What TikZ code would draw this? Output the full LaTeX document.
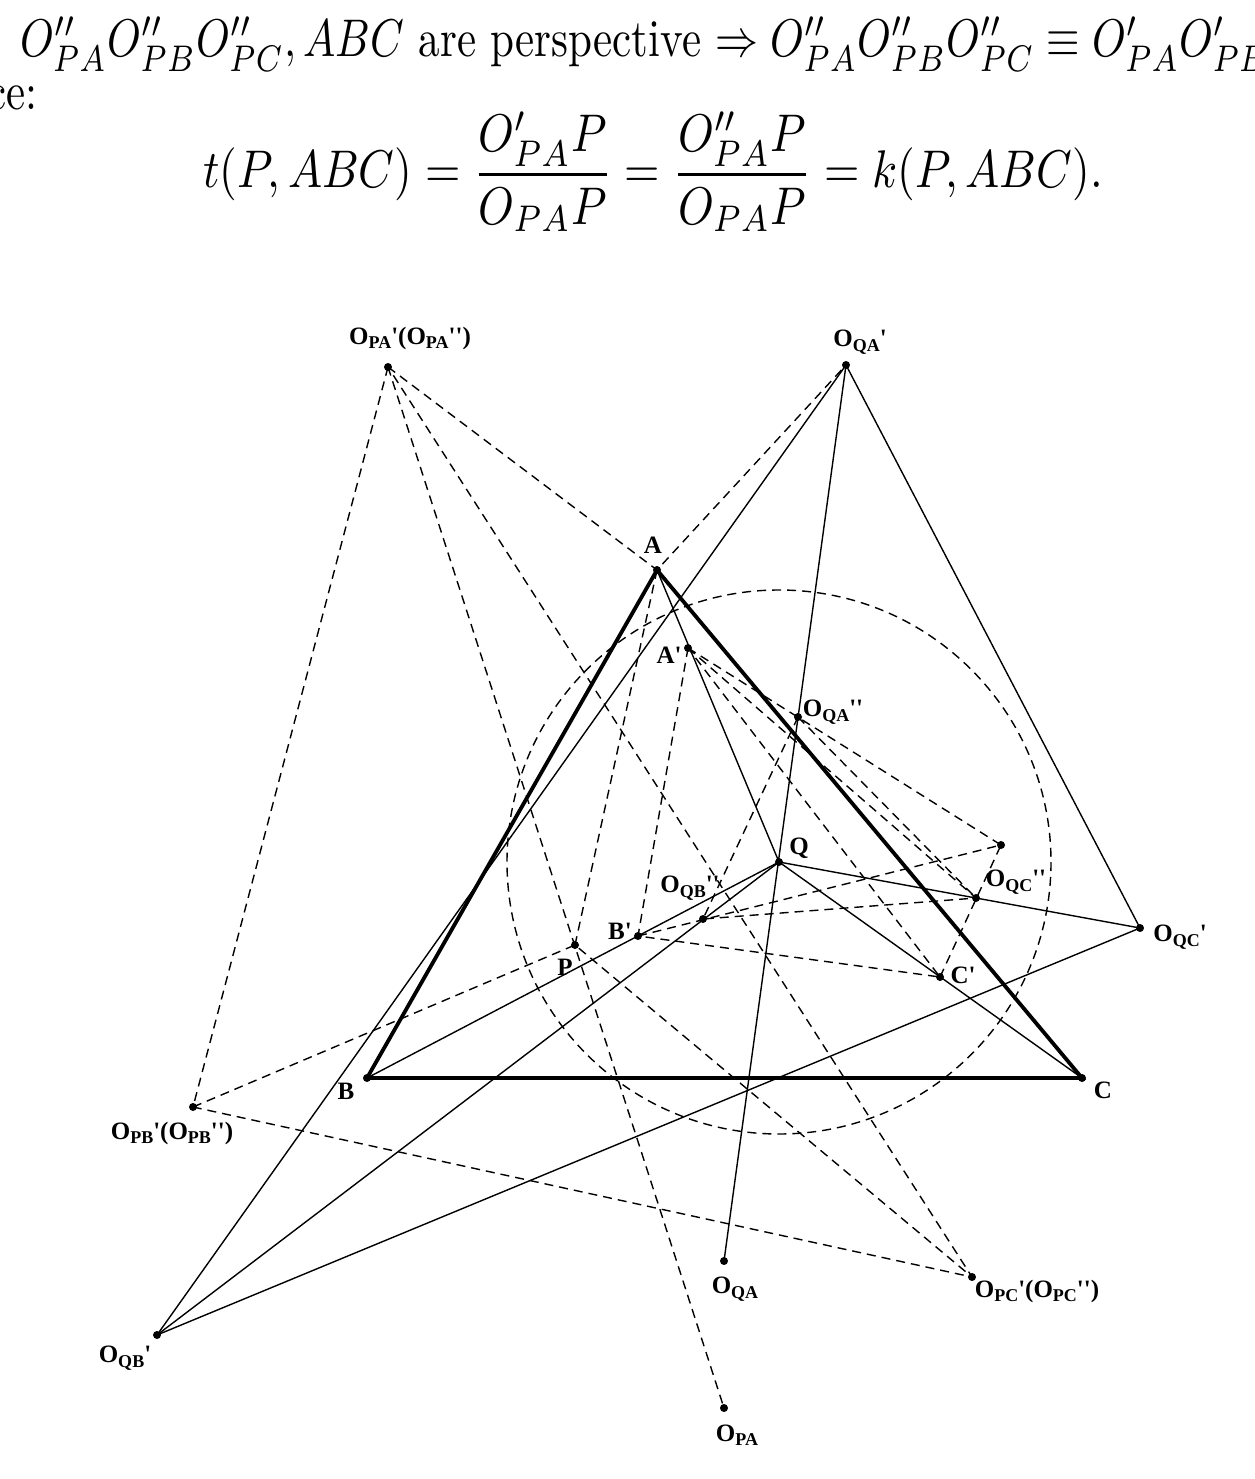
\documentclass[tikz,border=0pt]{standalone}
\usepackage{fontspec}
\newfontfamily\labfont{Liberation Serif}
\newcommand\sbs[1]{\raisebox{-0.4ex}{\fontsize{18}{18}\selectfont #1}}
\begin{document}
\begin{tikzpicture}[x=1pt,y=-1pt,
  thinl/.style={line width=1.4pt},
  dsh/.style={line width=1.4pt,dash pattern=on 9pt off 6pt},
  thk/.style={line width=3.8pt},
  hdr/.style={inner sep=0pt},
  lab/.style={font=\labfont\bfseries\fontsize{25}{25}\selectfont,inner sep=0pt}]
\useasboundingbox (0,0) rectangle (1254,1479);
\clip (0,0) rectangle (1254,1479);
% header text
\node[hdr,anchor=base west] (t1) at (20,57) {\scalebox{4.3}[5.3]{$O''_{PA}O''_{PB}O''_{PC}, ABC$ are perspective $\Rightarrow O''_{PA}O''_{PB}O''_{PC}\equiv O'_{PA}O'_{PB}O'_{PC}$}};
\node[hdr,anchor=base east] (t2) at (38,110) {\scalebox{4.3}[5.3]{Hence:}};
\node[hdr,anchor=center] (t3) at (653,172) {\scalebox{4.55}[5.3]{$\displaystyle t(P,ABC)=\frac{O'_{PA}P}{O_{PA}P}=\frac{O''_{PA}P}{O_{PA}P}=k(P,ABC).$}};
% points
\coordinate (A) at (657,570);
\coordinate (B) at (367,1078);
\coordinate (C) at (1082,1078);
\coordinate (Ap) at (688,648);
\coordinate (Bp) at (638,936);
\coordinate (Cp) at (940,977);
\coordinate (Q) at (779,862);
\coordinate (P) at (575,945);
\coordinate (OPAp) at (388,367);
\coordinate (OQAp) at (846,365);
\coordinate (OQApp) at (798,717);
\coordinate (OQBpp) at (703,919);
\coordinate (OQCpp) at (976,898);
\coordinate (OQCp) at (1140,928);
\coordinate (OPBp) at (193,1107);
\coordinate (OQBp) at (157,1335);
\coordinate (OQA) at (724,1261);
\coordinate (OPCp) at (972,1277);
\coordinate (OPA) at (724,1408);
\coordinate (X) at (1001,845);
% circle
\draw[dsh] (Q) circle[radius=272];
% dashed lines
\draw[dsh] (OPAp) -- (A) -- (OQAp);
\draw[dsh] (OPAp) -- (OPBp) -- (OPCp) -- (OPAp);
\draw[dsh] (OPAp) -- (OPA);
\draw[dsh] (OPBp) -- (P) -- (OPCp);
\draw[dsh] (A) -- (P);
\draw[dsh] (Ap) -- (Bp) -- (Cp) -- (Ap);
\draw[dsh] (Ap) -- (X);
\draw[dsh] (Ap) -- (OQCpp);
\draw[dsh] (OQApp) -- (OQCpp);
\draw[dsh] (OQApp) -- (OQBpp) -- (OQCpp);
\draw[dsh] (Bp) -- (X);
\draw[dsh] (Cp) -- (X);
% solid lines
\draw[thinl] (OQBp) -- (OQAp) -- (OQCp) -- (OQBp);
\draw[thinl] (OQBp) -- (Q);
\draw[thinl] (OQAp) -- (OQA);
\draw[thinl] (A) -- (Q);
\draw[thinl] (B) -- (Q) -- (C);
\draw[thinl] (Q) -- (OQCp);
\draw[thk,line join=miter] (A) -- (B) -- (C) -- cycle;
% dots
\foreach \p in {A,B,C,Ap,Bp,Cp,Q,P,OPAp,OQAp,OQApp,OQBpp,OQCpp,OQCp,OPBp,OQBp,OQA,OPCp,OPA,X}
  \fill (\p) circle[radius=4];
% labels
\node[lab] (lOPAp) at (410,338) {O\sbs{PA}'(O\sbs{PA}'')};
\node[lab] (lOQAp) at (860,342) {O\sbs{QA}'};
\node[lab] (lA) at (653,545) {A};
\node[lab] (lAp) at (669,655) {A'};
\node[lab] (lOQApp) at (833,712) {O\sbs{QA}''};
\node[lab] (lQ) at (799,848) {Q};
\node[lab] (lOQBpp) at (690,888) {O\sbs{QB}''};
\node[lab] (lOQCpp) at (1016,882) {O\sbs{QC}''};
\node[lab] (lOQCp) at (1180,937) {O\sbs{QC}'};
\node[lab] (lBp) at (620,931) {B'};
\node[lab] (lP) at (565,967) {P};
\node[lab] (lCp) at (963,975) {C'};
\node[lab] (lB) at (346,1091) {B};
\node[lab] (lC) at (1103,1090) {C};
\node[lab] (lOPBp) at (172,1133) {O\sbs{PB}'(O\sbs{PB}'')};
\node[lab] (lOQBp) at (125,1358) {O\sbs{QB}'};
\node[lab] (lOQA) at (735,1289) {O\sbs{QA}};
\node[lab] (lOPCp) at (1037,1291) {O\sbs{PC}'(O\sbs{PC}'')};
\node[lab] (lOPA) at (737,1435) {O\sbs{PA}};
\end{tikzpicture}
\end{document}
